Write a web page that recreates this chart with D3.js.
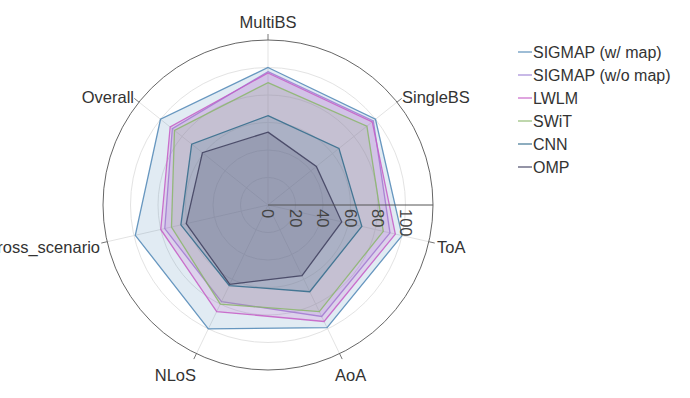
<!DOCTYPE html>
<html>
<head>
<meta charset="UTF-8">
<script src="https://d3js.org/d3.v7.min.js"></script>
<style>
  html, body { margin: 0; padding: 0; background: #fff; }
  svg { display: block; font-family: "Liberation Sans", Arial, sans-serif; }
</style>
</head>
<body>
<div id="chart"></div>
<script>
const categories = ["MultiBS", "SingleBS", "ToA", "AoA", "NLoS", "Cross_scenario", "Overall"];
const seriesNames = ["SIGMAP (w/ map)", "SIGMAP (w/o map)", "LWLM", "SWiT", "CNN", "OMP"];
const sigmapMap   = [100, 100, 100, 99, 100, 99, 100];
const sigmapNoMap = [97, 98, 91, 90, 78, 77, 89];
const lwlm        = [96, 97, 95, 94, 86, 80, 91];
const swit        = [89, 92, 86, 86, 80, 72, 87];
const cnn         = [65, 66, 70, 70, 65, 65, 71];
const omp         = [53, 45, 55, 57, 64, 61, 61];
const radialTicks = [0, 20, 40, 60, 80, 100];

const values = [sigmapMap, sigmapNoMap, lwlm, swit, cnn, omp];
const colors = ["#4f86b5", "#9b7fd4", "#c55bc5", "#8ab66a", "#2f6a8a", "#3d3d5c"];

const width = 690, height = 398;
const cx = 268, cy = 205;
const outer = 165;

const svg = d3.select("#chart").append("svg").attr("width", width).attr("height", height);
const g = svg.append("g").attr("transform", `translate(${cx},${cy})`);

const r = d3.scaleLinear().domain([0, 120]).range([0, outer]);
const angle = d3.scaleLinear().domain([0, categories.length]).range([0, 2 * Math.PI]);

// grid circles
g.selectAll(".grid").data(radialTicks.slice(1)).enter().append("circle")
  .attr("r", d => r(d)).attr("fill", "none").attr("stroke", "#e3e3e3").attr("stroke-width", 1);

// spokes
g.selectAll(".spoke").data(categories).enter().append("line")
  .attr("x1", 0).attr("y1", 0)
  .attr("x2", (d, i) => outer * Math.sin(angle(i)))
  .attr("y2", (d, i) => -outer * Math.cos(angle(i)))
  .attr("stroke", "#e3e3e3");

// outer ticks
g.selectAll(".tick").data(categories).enter().append("line")
  .attr("x1", (d, i) => outer * Math.sin(angle(i)))
  .attr("y1", (d, i) => -outer * Math.cos(angle(i)))
  .attr("x2", (d, i) => (outer + 6) * Math.sin(angle(i)))
  .attr("y2", (d, i) => -(outer + 6) * Math.cos(angle(i)))
  .attr("stroke", "#777");

// series polygons
const line = d3.lineRadial()
  .angle((d, i) => angle(i))
  .radius(d => r(d))
  .curve(d3.curveLinearClosed);

g.selectAll(".series").data(values).enter().append("path")
  .attr("d", d => line(d))
  .attr("fill", (d, i) => colors[i]).attr("fill-opacity", 0.17)
  .attr("stroke", (d, i) => colors[i]).attr("stroke-width", 1.3).attr("stroke-opacity", 0.85);

// outer circle
g.append("circle").attr("r", outer).attr("fill", "none").attr("stroke", "#666").attr("stroke-width", 1);

// radial axis
g.append("line").attr("x1", 0).attr("y1", 0).attr("x2", outer).attr("y2", 0)
  .attr("stroke", "#555").attr("stroke-width", 1);
g.selectAll(".rtick").data(radialTicks).enter().append("text")
  .attr("transform", d => `translate(${r(d)},4) rotate(90)`)
  .attr("text-anchor", "start").attr("dominant-baseline", "central")
  .attr("font-size", 16.5).attr("fill", "#444")
  .text(d => d);

// angular labels
const labelPos = [
  { x: 0, y: -183, anchor: "middle" },
  { x: 134, y: -108, anchor: "start" },
  { x: 169, y: 42, anchor: "start" },
  { x: 67, y: 170, anchor: "start" },
  { x: -72, y: 170, anchor: "end" },
  { x: -168, y: 42, anchor: "end" },
  { x: -134, y: -108, anchor: "end" }
];
g.selectAll(".alabel").data(categories).enter().append("text")
  .attr("x", (d, i) => labelPos[i].x).attr("y", (d, i) => labelPos[i].y)
  .attr("text-anchor", (d, i) => labelPos[i].anchor)
  .attr("dominant-baseline", "central")
  .attr("font-size", 16.5).attr("fill", "#333")
  .text(d => d);

// legend
const legend = svg.append("g").attr("transform", "translate(518,52)");
const rows = legend.selectAll(".lg").data(seriesNames).enter().append("g")
  .attr("transform", (d, i) => `translate(0,${i * 23})`);
rows.append("line").attr("x1", 0).attr("x2", 14).attr("y1", 0).attr("y2", 0)
  .attr("stroke", (d, i) => colors[i]).attr("stroke-opacity", 0.55).attr("stroke-width", 2);
rows.append("text").attr("x", 15).attr("y", 0).attr("dominant-baseline", "central")
  .attr("font-size", 16).attr("fill", "#333").text(d => d);
</script>
</body>
</html>
